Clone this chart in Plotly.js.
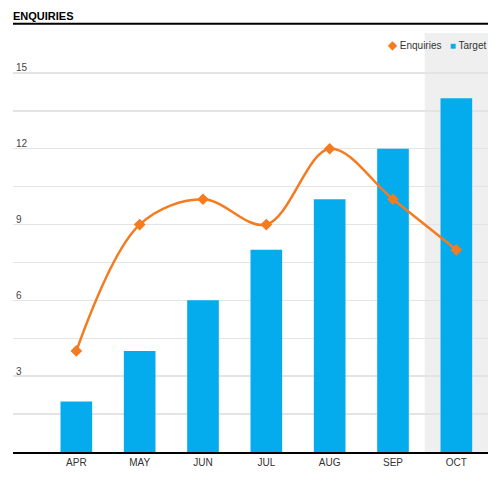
<!DOCTYPE html>
<html>
<head>
<meta charset="utf-8">
<script src="https://cdn.plot.ly/plotly-3.0.1.min.js"></script>
<style>
  html, body { margin: 0; padding: 0; background: #fff; }
  #chart { width: 500px; height: 484px; }
</style>
</head>
<body>
<div id="chart"></div>
<script>
  // chart data
  var months = ['APR', 'MAY', 'JUN', 'JUL', 'AUG', 'SEP', 'OCT'];
  var target = [2, 4, 6, 8, 10, 12, 14];
  var enquiries = [4, 9, 10, 9, 12, 10, 8];
  var gridVals = [1.5, 3, 4.5, 6, 7.5, 9, 10.5, 12, 13.5, 15, 16.5];
  var gridText = ['', '3', '', '6', '', '9', '', '12', '', '15', ''];
  var seriesNames = ['Enquiries', 'Target'];
  var highlightMonth = 'OCT';

  var ORANGE = '#f47b20';
  var BLUE = '#05aced';
  var FONT = 'Liberation Sans, Arial, sans-serif';

  var hi = months.indexOf(highlightMonth);

  var traces = [
    {
      x: months,
      y: enquiries,
      type: 'scatter',
      mode: 'lines+markers',
      name: seriesNames[0],
      line: { color: ORANGE, width: 2.5, shape: 'spline', smoothing: 1 },
      marker: { symbol: 'diamond', size: 9, color: ORANGE },
      cliponaxis: false
    },
    {
      x: months,
      y: target,
      type: 'bar',
      name: seriesNames[1],
      width: 0.5,
      marker: { color: BLUE }
    }
  ];

  // compact legend, drawn as text so the key sits tight like the original
  function legendText() {
    var gap = '\u00a0\u00a0\u00a0';
    return '<span style="color:' + ORANGE + ';font-size:12px">\u25C6</span> ' + seriesNames[0] +
      gap + '<span style="color:' + BLUE + '">\u25A0</span> ' + seriesNames[1];
  }

  var layout = {
    width: 500,
    height: 484,
    paper_bgcolor: '#fff',
    plot_bgcolor: 'rgba(0,0,0,0)',
    font: { family: FONT, color: '#333', size: 10 },
    margin: { l: 13, r: 12, t: 35, b: 32 },
    title: {
      text: '<b>ENQUIRIES</b>',
      font: { family: FONT, size: 11, color: '#000' },
      xref: 'paper',
      x: 0,
      xanchor: 'left',
      yref: 'container',
      y: 0.967,
      yanchor: 'middle'
    },
    showlegend: false,
    annotations: [
      {
        text: legendText(),
        xref: 'paper',
        yref: 'paper',
        x: 1,
        xanchor: 'right',
        y: 0.976,
        yanchor: 'middle',
        showarrow: false,
        font: { size: 10, color: '#333' }
      }
    ],
    xaxis: {
      type: 'category',
      range: [-1, months.length - 0.5],
      showgrid: false,
      showline: true,
      linecolor: '#000',
      linewidth: 2,
      ticks: '',
      zeroline: false,
      fixedrange: true
    },
    yaxis: {
      range: [0, 16.5],
      tickvals: gridVals,
      ticktext: gridText,
      ticklabelposition: 'inside',
      ticklabelshift: -5,
      ticks: '',
      showgrid: true,
      gridcolor: '#e4e4e4',
      gridwidth: 1.5,
      zeroline: false,
      showline: false,
      fixedrange: true
    },
    shapes: [
      {
        type: 'rect',
        xref: 'x',
        yref: 'paper',
        x0: hi - 0.5,
        x1: hi + 0.5,
        y0: 0,
        y1: 1.005,
        fillcolor: '#efefef',
        line: { width: 0 },
        layer: 'below'
      },
      {
        type: 'line',
        xref: 'paper',
        yref: 'paper',
        x0: 0,
        x1: 1,
        y0: 1.027,
        y1: 1.027,
        line: { color: '#000', width: 2 }
      }
    ]
  };

  Plotly.newPlot('chart', traces, layout, { displayModeBar: false, staticPlot: true });
</script>
</body>
</html>
